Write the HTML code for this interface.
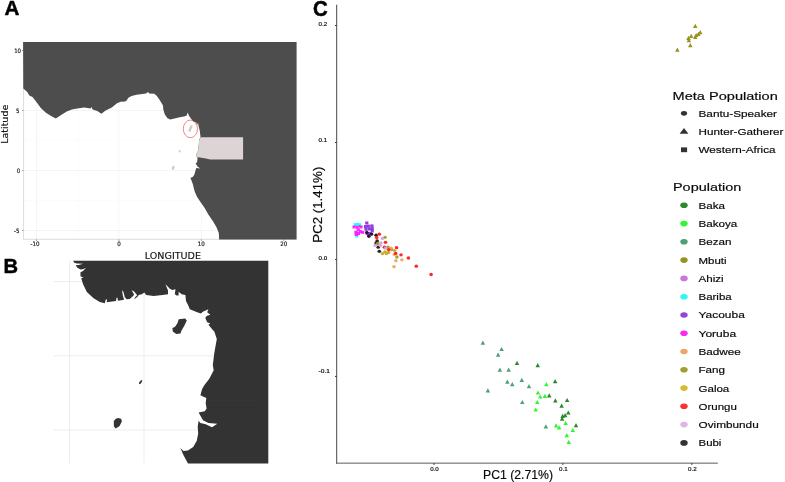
<!DOCTYPE html>
<html lang="en">
<head>
<meta charset="utf-8">
<title>Figure: maps and PCA</title>
<style>
html,body{margin:0;padding:0;background:#fff;}
body{width:785px;height:482px;overflow:hidden;font-family:'Liberation Sans', Arial, Helvetica, sans-serif;}
svg{display:block;}
</style>
</head>
<body>
<svg width="785" height="482" viewBox="0 0 785 482">
<rect width="785" height="482" fill="#ffffff"/>
<g id="panelA">
<line x1="36.5" y1="42.05" x2="36.5" y2="239.45" stroke="#efefef" stroke-width="0.6"/>
<line x1="77.7" y1="42.05" x2="77.7" y2="239.45" stroke="#f4f4f4" stroke-width="0.3"/>
<line x1="118.9" y1="42.05" x2="118.9" y2="239.45" stroke="#efefef" stroke-width="0.6"/>
<line x1="160.1" y1="42.05" x2="160.1" y2="239.45" stroke="#f4f4f4" stroke-width="0.3"/>
<line x1="201.3" y1="42.05" x2="201.3" y2="239.45" stroke="#efefef" stroke-width="0.6"/>
<line x1="242.5" y1="42.05" x2="242.5" y2="239.45" stroke="#f4f4f4" stroke-width="0.3"/>
<line x1="283.7" y1="42.05" x2="283.7" y2="239.45" stroke="#efefef" stroke-width="0.6"/>
<line x1="23.1" y1="50.5" x2="296.6" y2="50.5" stroke="#efefef" stroke-width="0.6"/>
<line x1="23.1" y1="80.5" x2="296.6" y2="80.5" stroke="#f4f4f4" stroke-width="0.3"/>
<line x1="23.1" y1="110.5" x2="296.6" y2="110.5" stroke="#efefef" stroke-width="0.6"/>
<line x1="23.1" y1="140.5" x2="296.6" y2="140.5" stroke="#f4f4f4" stroke-width="0.3"/>
<line x1="23.1" y1="170.5" x2="296.6" y2="170.5" stroke="#efefef" stroke-width="0.6"/>
<line x1="23.1" y1="200.5" x2="296.6" y2="200.5" stroke="#f4f4f4" stroke-width="0.3"/>
<line x1="23.1" y1="230.5" x2="296.6" y2="230.5" stroke="#efefef" stroke-width="0.6"/>
<line x1="23.55" y1="42.05" x2="23.55" y2="239.7" stroke="#dadada" stroke-width="0.9"/>
<line x1="23.1" y1="239.3" x2="296.6" y2="239.3" stroke="#dadada" stroke-width="0.9"/>
<polygon points="296.6,239.4 219.1,239.4 219.1,238.6 218.8,232.9 216.5,227.2 213.1,221.5 208.5,214.7 204.5,207.8 200.5,202.1 197.1,197.0 194.8,191.8 193.6,187.5 193.1,185.0 191.9,181.5 190.4,177.9 193.0,176.8 194.5,174.2 195.6,170.1 196.4,168.0 200.2,168.4 197.5,166.4 195.6,163.3 197.1,162.3 197.6,157.6 196.6,157.1 196.1,154.5 198.2,150.4 199.2,140.0 200.5,136.7 199.8,131.1 198.6,126.1 198.0,122.4 197.3,124.9 196.1,122.4 193.0,121.2 191.1,118.7 189.3,116.2 187.6,112.4 186.8,115.6 184.9,116.2 178.7,117.4 172.4,118.9 170.0,119.4 167.3,117.9 164.7,114.2 163.2,109.1 163.0,105.5 161.6,103.3 159.5,99.7 156.9,96.1 154.3,93.8 149.1,93.5 148.1,91.9 146.0,93.5 136.7,94.7 131.5,96.1 128.4,97.8 126.8,100.2 125.3,101.6 120.6,101.8 117.0,103.3 111.8,107.5 105.6,110.6 101.4,113.7 97.3,111.1 92.6,109.6 91.6,107.0 90.6,108.6 84.3,107.5 77.1,108.5 71.9,109.6 66.7,111.6 61.5,114.8 55.8,118.6 51.1,116.1 45.9,112.7 40.8,108.0 36.6,102.3 32.5,97.1 29.3,95.6 27.3,91.9 23.3,88.6 23.1,42.0 296.6,42.0" fill="#4d4d4d"/>
<polygon points="200.5,137.2 243.1,137.2 243.1,159.6 210.1,159.6 205.9,158.5 196.6,157.1 196.1,154.5 198.2,150.4 199.2,140.0" fill="#ddd5d5"/>
<polygon points="188.1,131.3 190.2,125.2 192.7,125.6 190.7,131.7" fill="#d2caca"/>
<ellipse cx="179.7" cy="151.2" rx="0.9" ry="1.2" fill="#d2caca"/>
<ellipse cx="173.2" cy="167.9" rx="1.3" ry="2.1" fill="#d2caca" transform="rotate(15 173.2 167.9)"/>
<ellipse cx="190.4" cy="128.9" rx="7.1" ry="8.8" fill="none" stroke="#f03030" stroke-width="0.6"/>
<line x1="36.5" y1="239.45" x2="36.5" y2="240.85" stroke="#555" stroke-width="0.6"/>
<text x="30.44" y="246.35" font-family="'DejaVu Sans', Verdana, sans-serif" font-size="6.0" textLength="9.11" lengthAdjust="spacingAndGlyphs" fill="#1a1a1a" stroke="#1a1a1a" stroke-width="0.18">-10</text>
<line x1="118.9" y1="239.45" x2="118.9" y2="240.85" stroke="#555" stroke-width="0.6"/>
<text x="117.13" y="246.35" font-family="'DejaVu Sans', Verdana, sans-serif" font-size="6.0" textLength="3.55" lengthAdjust="spacingAndGlyphs" fill="#1a1a1a" stroke="#1a1a1a" stroke-width="0.18">0</text>
<line x1="201.3" y1="239.45" x2="201.3" y2="240.85" stroke="#555" stroke-width="0.6"/>
<text x="197.75" y="246.35" font-family="'DejaVu Sans', Verdana, sans-serif" font-size="6.0" textLength="7.10" lengthAdjust="spacingAndGlyphs" fill="#1a1a1a" stroke="#1a1a1a" stroke-width="0.18">10</text>
<line x1="283.7" y1="239.45" x2="283.7" y2="240.85" stroke="#555" stroke-width="0.6"/>
<text x="280.15" y="246.35" font-family="'DejaVu Sans', Verdana, sans-serif" font-size="6.0" textLength="7.10" lengthAdjust="spacingAndGlyphs" fill="#1a1a1a" stroke="#1a1a1a" stroke-width="0.18">20</text>
<line x1="22.1" y1="50.5" x2="23.3" y2="50.5" stroke="#555" stroke-width="0.6"/>
<text x="14.20" y="52.75" font-family="'DejaVu Sans', Verdana, sans-serif" font-size="6.0" textLength="6.87" lengthAdjust="spacingAndGlyphs" fill="#1a1a1a" stroke="#1a1a1a" stroke-width="0.18">10</text>
<line x1="22.1" y1="110.5" x2="23.3" y2="110.5" stroke="#555" stroke-width="0.6"/>
<text x="15.90" y="112.75" font-family="'DejaVu Sans', Verdana, sans-serif" font-size="6.0" textLength="3.43" lengthAdjust="spacingAndGlyphs" fill="#1a1a1a" stroke="#1a1a1a" stroke-width="0.18">5</text>
<line x1="22.1" y1="170.5" x2="23.3" y2="170.5" stroke="#555" stroke-width="0.6"/>
<text x="16.75" y="172.75" font-family="'DejaVu Sans', Verdana, sans-serif" font-size="6.0" textLength="3.43" lengthAdjust="spacingAndGlyphs" fill="#1a1a1a" stroke="#1a1a1a" stroke-width="0.18">0</text>
<line x1="22.1" y1="230.5" x2="23.3" y2="230.5" stroke="#555" stroke-width="0.6"/>
<text x="14.00" y="232.75" font-family="'DejaVu Sans', Verdana, sans-serif" font-size="6.0" textLength="5.38" lengthAdjust="spacingAndGlyphs" fill="#1a1a1a" stroke="#1a1a1a" stroke-width="0.18">-5</text>
<text x="144.8" y="259.4" font-family="'DejaVu Sans', Verdana, sans-serif" font-size="9.5" textLength="56.2" lengthAdjust="spacingAndGlyphs" fill="#111" stroke="#111" stroke-width="0.15">LONGITUDE</text>
<text transform="translate(7.6 124.3) rotate(-90)" font-family="'DejaVu Sans', Verdana, sans-serif" font-size="9.5" text-anchor="middle" fill="#111" stroke="#111" stroke-width="0.15">Latitude</text>
</g>
<g id="panelB">
<line x1="69.6" y1="260.8" x2="69.6" y2="463.6" stroke="#ebebeb" stroke-width="0.9"/>
<line x1="144.0" y1="260.8" x2="144.0" y2="463.6" stroke="#ebebeb" stroke-width="0.9"/>
<line x1="218.4" y1="260.8" x2="218.4" y2="463.6" stroke="#ebebeb" stroke-width="0.9"/>
<line x1="54.0" y1="281.5" x2="268.3" y2="281.5" stroke="#ebebeb" stroke-width="0.9"/>
<line x1="54.0" y1="355.8" x2="268.3" y2="355.8" stroke="#ebebeb" stroke-width="0.9"/>
<line x1="54.0" y1="430.0" x2="268.3" y2="430.0" stroke="#ebebeb" stroke-width="0.9"/>
<polygon points="268.3,463.6 188.0,463.6 183.4,455.0 180.4,447.9 183.4,451.1 187.9,450.5 193.2,447.0 196.8,440.7 198.2,433.6 197.7,426.4 198.6,420.7 200.4,422.9 205.7,424.2 212.0,427.3 217.3,423.8 208.4,422.9 203.0,420.2 198.6,412.5 204.8,411.3 206.6,408.6 205.7,403.2 206.3,397.9 203.0,396.4 200.4,395.2 202.1,388.9 204.8,384.5 208.4,380.0 209.7,377.9 213.7,370.3 212.8,365.1 214.3,352.9 216.8,339.1 214.3,331.5 212.8,330.0 208.4,324.8 210.3,323.5 207.2,322.3 205.3,317.9 206.6,316.1 210.3,314.8 207.2,312.3 208.4,309.2 202.8,311.7 201.0,313.6 197.2,312.3 189.8,309.2 188.5,306.1 186.0,301.1 185.4,294.9 181.7,294.3 178.6,291.8 178.6,295.5 176.7,295.5 174.8,294.3 175.5,289.3 172.3,289.9 169.9,288.7 165.5,284.3 168.0,290.5 168.0,294.3 162.4,294.9 153.7,295.9 146.2,294.9 144.3,292.4 141.8,294.3 138.7,294.9 138.0,296.3 134.1,299.6 135.3,297.1 137.2,295.2 134.1,291.5 131.6,290.2 134.0,294.2 133.4,295.8 129.7,298.9 126.6,299.3 124.7,297.1 123.5,292.1 122.0,290.2 122.9,295.8 124.1,299.8 117.9,300.8 117.5,297.7 116.6,297.7 116.0,301.1 106.7,302.3 107.1,299.6 105.8,299.6 104.8,303.3 99.8,302.1 93.6,298.3 86.8,292.1 83.0,284.0 81.2,278.2 83.6,277.2 80.5,276.5 80.5,272.2 83.0,270.9 86.1,267.8 83.6,269.1 80.5,269.4 77.4,267.8 75.6,265.3 78.7,265.0 83.0,263.8 78.0,263.5 76.8,263.5 74.3,262.8 73.1,260.8 268.3,260.8" fill="#333333"/>
<polygon points="178.8,319.2 185.2,318.6 186.8,320.6 184.2,326.0 181.5,330.5 180.5,333.5 176.3,334.0 172.8,331.5 172.4,328.0 174.8,327.0 177.3,323.5" fill="#333333"/>
<polygon points="139.0,382.5 141.3,379.9 142.3,380.5 141.5,382.5 140.0,384.2 139.0,383.8" fill="#333333"/>
<polygon points="113.8,420.9 115.8,418.8 118.2,417.9 121.1,418.7 121.8,421.6 119.6,425.9 115.7,428.4 114.3,427.0 113.8,425.2" fill="#333333"/>
<polyline points="213.5,364 257.7,364 257.7,400.6 206.5,400.6" fill="none" stroke="#3a3a3a" stroke-width="0.5"/>
<polyline points="185.7,260.8 184.5,269.9 181.6,277.4 175.8,288.2" fill="none" stroke="#393939" stroke-width="0.5"/>
</g>
<text transform="translate(4.5 15.2) scale(1 1.0)" font-family="'Liberation Sans', Arial, Helvetica, sans-serif" font-weight="bold" font-size="20.6" fill="#000" stroke="#000" stroke-width="0.45">A</text>
<text transform="translate(3.6 272.9) scale(1 1.0)" font-family="'Liberation Sans', Arial, Helvetica, sans-serif" font-weight="bold" font-size="20.2" fill="#000" stroke="#000" stroke-width="0.45">B</text>
<text transform="translate(312.9 16.0) scale(1 1.07)" font-family="'Liberation Sans', Arial, Helvetica, sans-serif" font-weight="bold" font-size="20.4" fill="#000" stroke="#000" stroke-width="0.45">C</text>
<g id="panelC">
<line x1="336.7" y1="4.7" x2="336.7" y2="463.65" stroke="#484848" stroke-width="1"/>
<line x1="336.2" y1="463.15" x2="717.8" y2="463.15" stroke="#484848" stroke-width="0.9"/>
<line x1="335.0" y1="25.55" x2="336.7" y2="25.55" stroke="#333" stroke-width="1"/>
<text x="318.55" y="25.85" font-family="'Liberation Sans', Arial, Helvetica, sans-serif" font-size="5.6" textLength="8.6" lengthAdjust="spacingAndGlyphs" fill="#111" stroke="#111" stroke-width="0.2">0.2</text>
<line x1="335.0" y1="142.50" x2="336.7" y2="142.50" stroke="#333" stroke-width="1"/>
<text x="318.55" y="141.65" font-family="'Liberation Sans', Arial, Helvetica, sans-serif" font-size="5.6" textLength="8.6" lengthAdjust="spacingAndGlyphs" fill="#111" stroke="#111" stroke-width="0.2">0.1</text>
<line x1="335.0" y1="259.45" x2="336.7" y2="259.45" stroke="#333" stroke-width="1"/>
<text x="318.55" y="259.65" font-family="'Liberation Sans', Arial, Helvetica, sans-serif" font-size="5.6" textLength="8.6" lengthAdjust="spacingAndGlyphs" fill="#111" stroke="#111" stroke-width="0.2">0.0</text>
<line x1="335.0" y1="376.40" x2="336.7" y2="376.40" stroke="#333" stroke-width="1"/>
<text x="318.55" y="372.85" font-family="'Liberation Sans', Arial, Helvetica, sans-serif" font-size="5.6" textLength="11.3" lengthAdjust="spacingAndGlyphs" fill="#111" stroke="#111" stroke-width="0.2">-0.1</text>
<line x1="434.0" y1="463.15" x2="434.0" y2="464.95" stroke="#333" stroke-width="1"/>
<text x="430.2" y="470.9" font-family="'Liberation Sans', Arial, Helvetica, sans-serif" font-size="6.1" textLength="8.6" lengthAdjust="spacingAndGlyphs" fill="#111" stroke="#111" stroke-width="0.2">0.0</text>
<line x1="562.9" y1="463.15" x2="562.9" y2="464.95" stroke="#333" stroke-width="1"/>
<text x="559.1" y="470.9" font-family="'Liberation Sans', Arial, Helvetica, sans-serif" font-size="6.1" textLength="8.6" lengthAdjust="spacingAndGlyphs" fill="#111" stroke="#111" stroke-width="0.2">0.1</text>
<line x1="691.8" y1="463.15" x2="691.8" y2="464.95" stroke="#333" stroke-width="1"/>
<text x="688.0" y="470.9" font-family="'Liberation Sans', Arial, Helvetica, sans-serif" font-size="6.1" textLength="8.6" lengthAdjust="spacingAndGlyphs" fill="#111" stroke="#111" stroke-width="0.2">0.2</text>
<text x="483.0" y="478.55" font-family="'Liberation Sans', Arial, Helvetica, sans-serif" font-size="12.6" textLength="70" lengthAdjust="spacingAndGlyphs" fill="#0a0a0a" stroke="#0a0a0a" stroke-width="0.18">PC1 (2.71%)</text>
<text transform="translate(322.1 242.7) rotate(-90)" font-family="'Liberation Sans', Arial, Helvetica, sans-serif" font-size="12.9" textLength="76" lengthAdjust="spacingAndGlyphs" fill="#0a0a0a" stroke="#0a0a0a" stroke-width="0.18">PC2 (1.41%)</text>
<polygon points="482.9,340.6 480.6,344.8 485.1,344.8" fill="#4f9f78"/>
<polygon points="501.6,346.9 499.4,351.1 503.9,351.1" fill="#4f9f78"/>
<polygon points="498.1,352.6 495.9,356.8 500.4,356.8" fill="#4f9f78"/>
<polygon points="499.9,367.5 497.6,371.7 502.1,371.7" fill="#4f9f78"/>
<polygon points="508.6,367.5 506.4,371.7 510.9,371.7" fill="#4f9f78"/>
<polygon points="507.3,379.5 505.1,383.7 509.6,383.7" fill="#4f9f78"/>
<polygon points="512.3,382.0 510.0,386.2 514.5,386.2" fill="#4f9f78"/>
<polygon points="521.8,377.7 519.5,381.9 524.0,381.9" fill="#4f9f78"/>
<polygon points="529.0,384.0 526.8,388.2 531.2,388.2" fill="#4f9f78"/>
<polygon points="487.9,388.2 485.6,392.4 490.1,392.4" fill="#4f9f78"/>
<polygon points="522.3,399.9 520.0,404.1 524.5,404.1" fill="#4f9f78"/>
<polygon points="545.9,424.3 543.6,428.5 548.1,428.5" fill="#4f9f78"/>
<polygon points="517.0,360.8 514.8,365.0 519.2,365.0" fill="#2a8a2a"/>
<polygon points="537.7,363.1 535.5,367.3 540.0,367.3" fill="#2a8a2a"/>
<polygon points="555.1,379.0 552.9,383.2 557.4,383.2" fill="#2a8a2a"/>
<polygon points="549.2,393.2 547.0,397.4 551.5,397.4" fill="#2a8a2a"/>
<polygon points="555.4,398.2 553.1,402.4 557.6,402.4" fill="#2a8a2a"/>
<polygon points="567.1,397.9 564.9,402.1 569.4,402.1" fill="#2a8a2a"/>
<polygon points="561.6,403.6 559.4,407.8 563.9,407.8" fill="#2a8a2a"/>
<polygon points="568.3,410.4 566.0,414.6 570.5,414.6" fill="#2a8a2a"/>
<polygon points="565.1,413.1 562.9,417.3 567.4,417.3" fill="#2a8a2a"/>
<polygon points="562.6,413.8 560.4,418.0 564.9,418.0" fill="#2a8a2a"/>
<polygon points="562.1,416.6 559.9,420.8 564.4,420.8" fill="#2a8a2a"/>
<polygon points="576.0,423.1 573.8,427.3 578.2,427.3" fill="#2a8a2a"/>
<polygon points="546.4,382.0 544.1,386.2 548.6,386.2" fill="#33f533"/>
<polygon points="538.0,390.4 535.8,394.6 540.2,394.6" fill="#33f533"/>
<polygon points="540.2,394.4 538.0,398.6 542.5,398.6" fill="#33f533"/>
<polygon points="544.9,393.7 542.6,397.9 547.1,397.9" fill="#33f533"/>
<polygon points="537.2,399.9 535.0,404.1 539.5,404.1" fill="#33f533"/>
<polygon points="535.7,407.4 533.5,411.6 538.0,411.6" fill="#33f533"/>
<polygon points="565.6,420.8 563.4,425.0 567.9,425.0" fill="#33f533"/>
<polygon points="556.1,423.3 553.9,427.5 558.4,427.5" fill="#33f533"/>
<polygon points="559.1,425.3 556.9,429.5 561.4,429.5" fill="#33f533"/>
<polygon points="572.8,427.8 570.5,432.0 575.0,432.0" fill="#33f533"/>
<polygon points="566.8,433.0 564.5,437.2 569.0,437.2" fill="#33f533"/>
<polygon points="568.8,439.7 566.5,443.9 571.0,443.9" fill="#33f533"/>
<polygon points="695.3,23.8 693.0,28.0 697.5,28.0" fill="#98921f"/>
<polygon points="700.3,30.0 698.0,34.2 702.5,34.2" fill="#98921f"/>
<polygon points="698.4,31.8 696.1,36.0 700.6,36.0" fill="#98921f"/>
<polygon points="696.1,32.9 693.9,37.1 698.4,37.1" fill="#98921f"/>
<polygon points="691.1,33.7 688.9,37.9 693.4,37.9" fill="#98921f"/>
<polygon points="695.3,34.9 693.0,39.1 697.5,39.1" fill="#98921f"/>
<polygon points="688.5,35.7 686.2,39.9 690.8,39.9" fill="#98921f"/>
<polygon points="688.9,38.0 686.6,42.2 691.1,42.2" fill="#98921f"/>
<polygon points="690.3,43.0 688.0,47.2 692.5,47.2" fill="#98921f"/>
<polygon points="677.4,47.5 675.1,51.7 679.6,51.7" fill="#98921f"/>
<rect x="353.6" y="223.1" width="3.2" height="3.0" fill="#14ffff" fill-opacity="0.92"/>
<rect x="356.2" y="222.8" width="3.2" height="3.0" fill="#14ffff" fill-opacity="0.92"/>
<rect x="358.0" y="223.3" width="3.2" height="3.0" fill="#14ffff" fill-opacity="0.92"/>
<rect x="355.3" y="234.5" width="3.2" height="3.0" fill="#14ffff" fill-opacity="0.92"/>
<rect x="352.5" y="225.5" width="3.2" height="3.0" fill="#ff14ff" fill-opacity="0.92"/>
<rect x="355.6" y="225.7" width="3.2" height="3.0" fill="#ff14ff" fill-opacity="0.92"/>
<rect x="359.4" y="225.5" width="3.2" height="3.0" fill="#ff14ff" fill-opacity="0.92"/>
<rect x="356.7" y="228.3" width="3.2" height="3.0" fill="#ff14ff" fill-opacity="0.92"/>
<rect x="354.4" y="230.7" width="3.2" height="3.0" fill="#ff14ff" fill-opacity="0.92"/>
<rect x="356.9" y="232.0" width="3.2" height="3.0" fill="#ff14ff" fill-opacity="0.92"/>
<rect x="354.6" y="233.0" width="3.2" height="3.0" fill="#ff14ff" fill-opacity="0.92"/>
<rect x="361.0" y="230.9" width="3.2" height="3.0" fill="#ff14ff" fill-opacity="0.92"/>
<rect x="358.9" y="230.0" width="3.2" height="3.0" fill="#ff14ff" fill-opacity="0.92"/>
<rect x="365.2" y="221.5" width="3.2" height="3.0" fill="#8a2be2" fill-opacity="0.92"/>
<rect x="364.0" y="225.0" width="3.2" height="3.0" fill="#8a2be2" fill-opacity="0.92"/>
<rect x="366.9" y="224.7" width="3.2" height="3.0" fill="#8a2be2" fill-opacity="0.92"/>
<rect x="370.3" y="224.4" width="3.2" height="3.0" fill="#8a2be2" fill-opacity="0.92"/>
<rect x="370.6" y="227.1" width="3.2" height="3.0" fill="#8a2be2" fill-opacity="0.92"/>
<rect x="367.7" y="227.5" width="3.2" height="3.0" fill="#8a2be2" fill-opacity="0.92"/>
<rect x="364.4" y="227.8" width="3.2" height="3.0" fill="#8a2be2" fill-opacity="0.92"/>
<rect x="370.6" y="229.5" width="3.2" height="3.0" fill="#8a2be2" fill-opacity="0.92"/>
<rect x="366.8" y="233.3" width="3.2" height="3.0" fill="#8a2be2" fill-opacity="0.92"/>
<rect x="368.4" y="232.0" width="3.2" height="3.0" fill="#8a2be2" fill-opacity="0.92"/>
<rect x="365.7" y="232.0" width="3.2" height="3.0" fill="#8a2be2" fill-opacity="0.92"/>
<ellipse cx="359.6" cy="226.3" rx="0.8" ry="0.8" fill="#ff1414" fill-opacity="0.9"/>
<ellipse cx="366.8" cy="232.4" rx="1.8" ry="1.65" fill="#111111" fill-opacity="0.92"/>
<ellipse cx="371.5" cy="234.2" rx="1.8" ry="1.65" fill="#111111" fill-opacity="0.92"/>
<ellipse cx="368.9" cy="236.3" rx="1.8" ry="1.65" fill="#111111" fill-opacity="0.92"/>
<ellipse cx="376.1" cy="235.2" rx="1.8" ry="1.65" fill="#111111" fill-opacity="0.92"/>
<ellipse cx="377.2" cy="241.0" rx="1.8" ry="1.65" fill="#111111" fill-opacity="0.92"/>
<ellipse cx="376.1" cy="243.0" rx="1.8" ry="1.65" fill="#111111" fill-opacity="0.92"/>
<ellipse cx="378.2" cy="247.2" rx="1.8" ry="1.65" fill="#111111" fill-opacity="0.92"/>
<ellipse cx="379.3" cy="251.3" rx="1.8" ry="1.65" fill="#111111" fill-opacity="0.92"/>
<ellipse cx="385.0" cy="237.3" rx="1.8" ry="1.65" fill="#a39a1e" fill-opacity="0.92"/>
<ellipse cx="377.7" cy="243.5" rx="1.8" ry="1.65" fill="#a39a1e" fill-opacity="0.92"/>
<ellipse cx="388.0" cy="247.2" rx="1.8" ry="1.65" fill="#a39a1e" fill-opacity="0.92"/>
<ellipse cx="391.7" cy="249.6" rx="1.8" ry="1.65" fill="#a39a1e" fill-opacity="0.92"/>
<ellipse cx="394.6" cy="250.6" rx="1.8" ry="1.65" fill="#c8a81e" fill-opacity="0.92"/>
<ellipse cx="385.0" cy="251.9" rx="1.8" ry="1.65" fill="#c8a81e" fill-opacity="0.92"/>
<ellipse cx="382.4" cy="253.6" rx="1.8" ry="1.65" fill="#c8a81e" fill-opacity="0.92"/>
<ellipse cx="386.5" cy="253.6" rx="1.8" ry="1.65" fill="#c8a81e" fill-opacity="0.92"/>
<ellipse cx="388.6" cy="252.4" rx="1.8" ry="1.65" fill="#c8a81e" fill-opacity="0.92"/>
<ellipse cx="396.9" cy="257.0" rx="1.8" ry="1.65" fill="#a39a1e" fill-opacity="0.92"/>
<ellipse cx="391.2" cy="248.2" rx="1.8" ry="1.65" fill="#f2a160" fill-opacity="0.92"/>
<ellipse cx="395.9" cy="260.7" rx="1.8" ry="1.65" fill="#f2a160" fill-opacity="0.92"/>
<ellipse cx="401.9" cy="259.8" rx="1.8" ry="1.65" fill="#f2a160" fill-opacity="0.92"/>
<ellipse cx="394.3" cy="254.4" rx="1.8" ry="1.65" fill="#f2a160" fill-opacity="0.92"/>
<ellipse cx="394.0" cy="266.7" rx="1.8" ry="1.65" fill="#f2a160" fill-opacity="0.92"/>
<ellipse cx="379.3" cy="234.2" rx="1.8" ry="1.65" fill="#ff1414" fill-opacity="0.92"/>
<ellipse cx="376.7" cy="237.6" rx="1.8" ry="1.65" fill="#ff1414" fill-opacity="0.92"/>
<ellipse cx="385.5" cy="242.3" rx="1.8" ry="1.65" fill="#ff1414" fill-opacity="0.92"/>
<ellipse cx="396.6" cy="247.7" rx="1.8" ry="1.65" fill="#ff1414" fill-opacity="0.92"/>
<ellipse cx="388.6" cy="249.6" rx="1.8" ry="1.65" fill="#ff1414" fill-opacity="0.92"/>
<ellipse cx="384.4" cy="247.2" rx="1.8" ry="1.65" fill="#ff1414" fill-opacity="0.92"/>
<ellipse cx="395.7" cy="253.4" rx="1.8" ry="1.65" fill="#ff1414" fill-opacity="0.92"/>
<ellipse cx="401.0" cy="254.8" rx="1.8" ry="1.65" fill="#ff1414" fill-opacity="0.92"/>
<ellipse cx="408.4" cy="258.0" rx="1.8" ry="1.65" fill="#ff1414" fill-opacity="0.92"/>
<ellipse cx="416.3" cy="266.2" rx="1.8" ry="1.65" fill="#ff1414" fill-opacity="0.92"/>
<ellipse cx="431.1" cy="274.5" rx="1.8" ry="1.65" fill="#ff1414" fill-opacity="0.92"/>
<ellipse cx="382.4" cy="238.4" rx="1.8" ry="1.65" fill="#d9a0dc" fill-opacity="0.92"/>
<ellipse cx="380.8" cy="243.0" rx="1.8" ry="1.65" fill="#d9a0dc" fill-opacity="0.92"/>
<ellipse cx="375.1" cy="245.3" rx="1.8" ry="1.65" fill="#d9a0dc" fill-opacity="0.92"/>
<ellipse cx="380.3" cy="245.6" rx="1.8" ry="1.65" fill="#d9a0dc" fill-opacity="0.92"/>
<ellipse cx="385.5" cy="248.2" rx="1.8" ry="1.65" fill="#d9a0dc" fill-opacity="0.92"/>
<text x="672.6" y="99.6" font-family="'Liberation Sans', Arial, Helvetica, sans-serif" font-size="11.4" textLength="105.2" lengthAdjust="spacingAndGlyphs" fill="#0a0a0a" stroke="#0a0a0a" stroke-width="0.18">Meta Population</text>
<ellipse cx="684.0" cy="113.3" rx="3.1" ry="2.4" fill="#333333"/>
<polygon points="684.0,128.1 679.6,133.8 688.4,133.8" fill="#333333"/>
<rect x="681.0" y="147.4" width="6.1" height="4.8" fill="#333333"/>
<text x="698.5" y="116.8" font-family="'Liberation Sans', Arial, Helvetica, sans-serif" font-size="9.7" textLength="78.5" lengthAdjust="spacingAndGlyphs" fill="#0a0a0a" stroke="#0a0a0a" stroke-width="0.18">Bantu-Speaker</text>
<text x="698.5" y="135.1" font-family="'Liberation Sans', Arial, Helvetica, sans-serif" font-size="9.7" textLength="85.0" lengthAdjust="spacingAndGlyphs" fill="#0a0a0a" stroke="#0a0a0a" stroke-width="0.18">Hunter-Gatherer</text>
<text x="698.5" y="153.3" font-family="'Liberation Sans', Arial, Helvetica, sans-serif" font-size="9.7" textLength="77.0" lengthAdjust="spacingAndGlyphs" fill="#0a0a0a" stroke="#0a0a0a" stroke-width="0.18">Western-Africa</text>
<text x="673.0" y="191.3" font-family="'Liberation Sans', Arial, Helvetica, sans-serif" font-size="11.4" textLength="68.2" lengthAdjust="spacingAndGlyphs" fill="#0a0a0a" stroke="#0a0a0a" stroke-width="0.18">Population</text>
<ellipse cx="684.0" cy="205.3" rx="3.7" ry="2.8" fill="#2a8a2a"/>
<text x="698.5" y="208.7" font-family="'Liberation Sans', Arial, Helvetica, sans-serif" font-size="9.7" textLength="26.5" lengthAdjust="spacingAndGlyphs" fill="#0a0a0a" stroke="#0a0a0a" stroke-width="0.18">Baka</text>
<ellipse cx="684.0" cy="223.6" rx="3.7" ry="2.8" fill="#33f533"/>
<text x="698.5" y="227.0" font-family="'Liberation Sans', Arial, Helvetica, sans-serif" font-size="9.7" textLength="38.8" lengthAdjust="spacingAndGlyphs" fill="#0a0a0a" stroke="#0a0a0a" stroke-width="0.18">Bakoya</text>
<ellipse cx="684.0" cy="241.8" rx="3.7" ry="2.8" fill="#4f9f78"/>
<text x="698.5" y="245.2" font-family="'Liberation Sans', Arial, Helvetica, sans-serif" font-size="9.7" textLength="33.0" lengthAdjust="spacingAndGlyphs" fill="#0a0a0a" stroke="#0a0a0a" stroke-width="0.18">Bezan</text>
<ellipse cx="684.0" cy="260.1" rx="3.7" ry="2.8" fill="#98921f"/>
<text x="698.5" y="263.5" font-family="'Liberation Sans', Arial, Helvetica, sans-serif" font-size="9.7" textLength="28.0" lengthAdjust="spacingAndGlyphs" fill="#0a0a0a" stroke="#0a0a0a" stroke-width="0.18">Mbuti</text>
<ellipse cx="684.0" cy="278.4" rx="3.7" ry="2.8" fill="#c878dc"/>
<text x="698.5" y="281.8" font-family="'Liberation Sans', Arial, Helvetica, sans-serif" font-size="9.7" textLength="25.2" lengthAdjust="spacingAndGlyphs" fill="#0a0a0a" stroke="#0a0a0a" stroke-width="0.18">Ahizi</text>
<ellipse cx="684.0" cy="296.7" rx="3.7" ry="2.8" fill="#2ff5f5"/>
<text x="698.5" y="300.1" font-family="'Liberation Sans', Arial, Helvetica, sans-serif" font-size="9.7" textLength="33.2" lengthAdjust="spacingAndGlyphs" fill="#0a0a0a" stroke="#0a0a0a" stroke-width="0.18">Bariba</text>
<ellipse cx="684.0" cy="315.0" rx="3.7" ry="2.8" fill="#9146d7"/>
<text x="698.5" y="318.4" font-family="'Liberation Sans', Arial, Helvetica, sans-serif" font-size="9.7" textLength="46.3" lengthAdjust="spacingAndGlyphs" fill="#0a0a0a" stroke="#0a0a0a" stroke-width="0.18">Yacouba</text>
<ellipse cx="684.0" cy="333.2" rx="3.7" ry="2.8" fill="#fa28fa"/>
<text x="698.5" y="336.6" font-family="'Liberation Sans', Arial, Helvetica, sans-serif" font-size="9.7" textLength="37.7" lengthAdjust="spacingAndGlyphs" fill="#0a0a0a" stroke="#0a0a0a" stroke-width="0.18">Yoruba</text>
<ellipse cx="684.0" cy="351.5" rx="3.7" ry="2.8" fill="#f0a566"/>
<text x="698.5" y="354.9" font-family="'Liberation Sans', Arial, Helvetica, sans-serif" font-size="9.7" textLength="42.4" lengthAdjust="spacingAndGlyphs" fill="#0a0a0a" stroke="#0a0a0a" stroke-width="0.18">Badwee</text>
<ellipse cx="684.0" cy="369.8" rx="3.7" ry="2.8" fill="#a0a032"/>
<text x="698.5" y="373.2" font-family="'Liberation Sans', Arial, Helvetica, sans-serif" font-size="9.7" textLength="26.5" lengthAdjust="spacingAndGlyphs" fill="#0a0a0a" stroke="#0a0a0a" stroke-width="0.18">Fang</text>
<ellipse cx="684.0" cy="388.1" rx="3.7" ry="2.8" fill="#d7b932"/>
<text x="698.5" y="391.5" font-family="'Liberation Sans', Arial, Helvetica, sans-serif" font-size="9.7" textLength="30.8" lengthAdjust="spacingAndGlyphs" fill="#0a0a0a" stroke="#0a0a0a" stroke-width="0.18">Galoa</text>
<ellipse cx="684.0" cy="406.3" rx="3.7" ry="2.8" fill="#fa3232"/>
<text x="698.5" y="409.7" font-family="'Liberation Sans', Arial, Helvetica, sans-serif" font-size="9.7" textLength="38.3" lengthAdjust="spacingAndGlyphs" fill="#0a0a0a" stroke="#0a0a0a" stroke-width="0.18">Orungu</text>
<ellipse cx="684.0" cy="424.6" rx="3.7" ry="2.8" fill="#e1b4e6"/>
<text x="698.5" y="428.0" font-family="'Liberation Sans', Arial, Helvetica, sans-serif" font-size="9.7" textLength="60.2" lengthAdjust="spacingAndGlyphs" fill="#0a0a0a" stroke="#0a0a0a" stroke-width="0.18">Ovimbundu</text>
<ellipse cx="684.0" cy="442.9" rx="3.7" ry="2.8" fill="#333333"/>
<text x="698.5" y="446.3" font-family="'Liberation Sans', Arial, Helvetica, sans-serif" font-size="9.7" textLength="22.9" lengthAdjust="spacingAndGlyphs" fill="#0a0a0a" stroke="#0a0a0a" stroke-width="0.18">Bubi</text>
</g>
</svg>
</body>
</html>
